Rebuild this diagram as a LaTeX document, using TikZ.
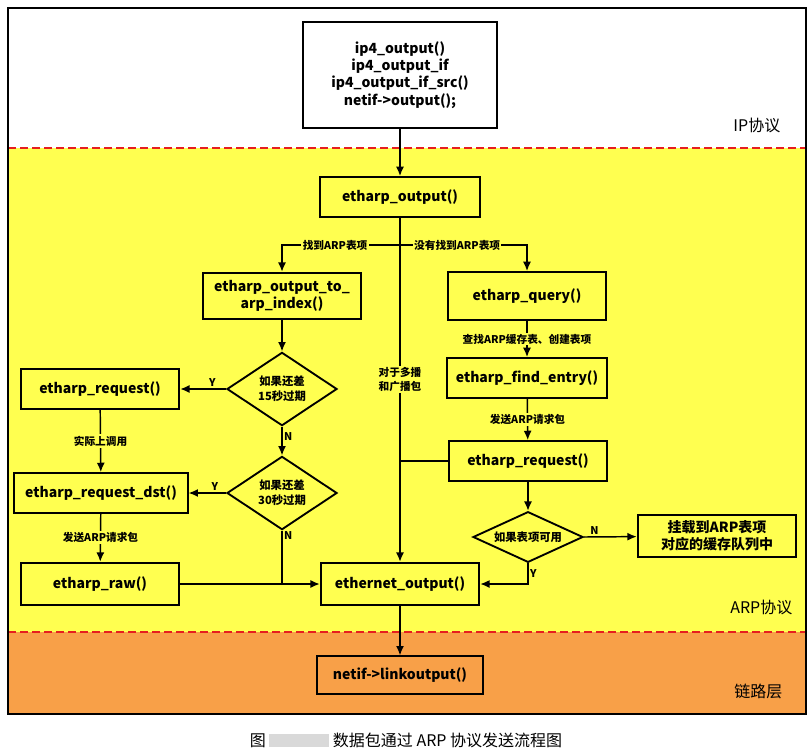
\documentclass[tikz,border=0pt]{standalone}
\usepackage{fontspec}
\setmainfont{Noto Sans CJK SC}
\usetikzlibrary{shapes.geometric,arrows.meta}
\definecolor{ylw}{RGB}{255,255,80}
\definecolor{org}{RGB}{248,160,72}
\definecolor{dred}{RGB}{230,30,30}
\begin{document}
\begin{tikzpicture}[x=0.75pt,y=-0.75pt,
 box/.style={draw,line width=1.4pt,minimum height=#1*0.75pt,align=center,font=\bfseries\fontsize{10.5}{13}\selectfont,inner sep=1pt},
 box/.default=40,
 dia/.style={draw,diamond,line width=1.4pt,aspect=1.5,minimum width=82.5pt,minimum height=55pt,inner sep=0pt,align=center,font=\bfseries\fontsize{8.5}{11}\selectfont},
 ln/.style={line width=1.1pt},
 ar/.style={ln,-{Latex[length=7pt,width=6pt]}},
 lab/.style={font=\bfseries\fontsize{8}{10}\selectfont,inner sep=1pt},
 layer/.style={font=\fontsize{12}{14}\selectfont,anchor=east}]
\useasboundingbox (0,0) rectangle (812,753);
\fill[white] (0,0) rectangle (812,753);
\fill[ylw] (8,148) rectangle (806,632);
\fill[org] (8,632) rectangle (806,714);
\draw[dred,line width=1.3pt,dash pattern=on 6pt off 3pt] (8,148) -- (806,148);
\draw[dred,line width=1.3pt,dash pattern=on 6pt off 3pt] (8,632) -- (806,632);
\draw[line width=1pt] (8,8) rectangle (806,714);
\node[layer] (l1) at (785,125) {IP协议};
\node[layer] (l2) at (797,607) {ARP协议};
\node[layer] (l3) at (787,691) {链路层};
% nodes
\node[box,minimum width=146pt,minimum height=80pt] (ip) at (400,75) {ip4\_output()\\ip4\_output\_if\\ip4\_output\_if\_src()\\netif->output();};
\node[box,minimum width=120pt] (eo) at (400,197) {etharp\_output()};
\node[box,minimum width=119pt,minimum height=35pt] (eta) at (282,296) {etharp\_output\_to\_\\arp\_index()};
\node[box,minimum width=119pt,minimum height=36pt] (eq) at (527,296) {etharp\_query()};
\node[box,minimum width=120pt] (efe) at (527,378) {etharp\_find\_entry()};
\node[box,minimum width=119pt] (erR) at (528,461) {etharp\_request()};
\node[dia] (d1) at (282,389) {如果还差\\15秒过期};
\node[dia] (d2) at (282,493) {如果还差\\30秒过期};
\node[dia,aspect=2.2,minimum height=38pt] (d3) at (528,537) {如果表项可用};
\node[box,minimum width=119pt] (erL) at (100,389) {etharp\_request()};
\node[box,minimum width=130pt] (erd) at (101,493) {etharp\_request\_dst()};
\node[box,minimum width=119pt,minimum height=32pt] (raw) at (100,584) {etharp\_raw()};
\node[box,minimum width=119pt,minimum height=32pt] (eth) at (400,584) {ethernet\_output()};
\node[box,minimum width=119pt,minimum height=31pt] (hang) at (717,536) {挂载到ARP表项\\对应的缓存队列中};
\node[box,minimum width=125pt,minimum height=28pt] (nl) at (400,675) {netif->linkoutput()};
% connectors
\draw[ar] (ip) -- (eo);
\coordinate (br) at (400,245);
\draw[ar] (eo.south) -- (eth.north) node[lab,fill=ylw,pos=0.47,align=center] (mc) {对于多播\\和广播包};
\draw[ar] (br) -- node[lab,fill=ylw,pos=0.55] (f1) {找到ARP表项} (282,245) -- (eta);
\draw[ar] (br) -- node[lab,fill=ylw,pos=0.45] (f2) {没有找到ARP表项} (527,245) -- (eq);
\draw[ar] (eta) -- (d1);
\draw[ar] (eq) -- node[lab,fill=ylw] (t1) {查找ARP缓存表、创建表项} (efe);
\draw[ar] (efe) -- node[lab,fill=ylw] (t2) {发送ARP请求包} (erR);
\draw[ln] (erR.west) -- (400,461);
\draw[ar] (erR) -- (d3);
\draw[ar] (d1) -- node[lab,above,pos=0.3] (y1) {Y} (erL);
\draw[ar] (d1) -- node[lab,right,pos=0.35] (n1) {N} (d2);
\draw[ar] (d2) -- node[lab,above,pos=0.3] (y2) {Y} (erd);
\draw[ar] (erL) -- node[lab,fill=ylw] (t3) {实际上调用} (erd);
\draw[ar] (erd) -- node[lab,fill=ylw] (t4) {发送ARP请求包} (raw);
\draw[ar] (raw) -- (eth);
\draw[ln] (d2.south) -- node[lab,right,pos=0.1] (n2) {N} (282,584);
\draw[ar] (d3.east) -- node[lab,above,pos=0.2] (n3) {N} (hang);
\draw[ar] (d3.south) -- node[lab,right,pos=0.5] (y3) {Y} (528,584) -- (eth.east);
\draw[ar] (eth) -- (nl);
% caption
\node[font=\fontsize{12}{14}\selectfont] (cap) at (406,740) {图 \textcolor{black!15}{\rule[-1pt]{45pt}{10pt}} 数据包通过 ARP 协议发送流程图};
\end{tikzpicture}
\end{document}
